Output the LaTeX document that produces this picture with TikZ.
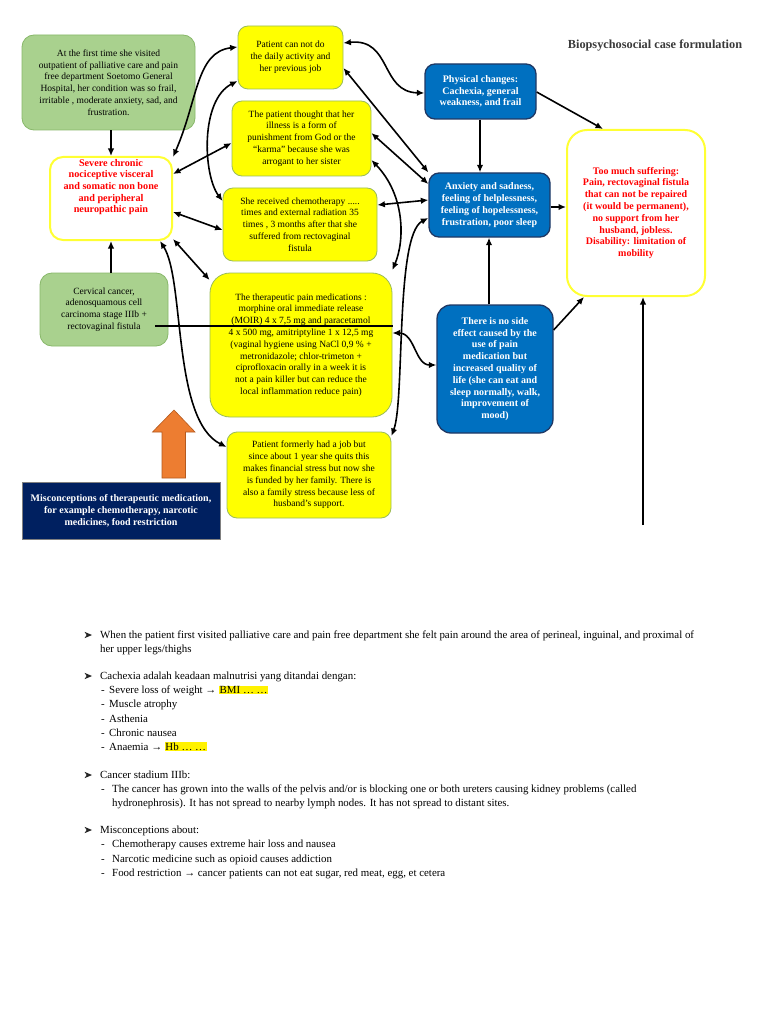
\documentclass[tikz,border=0pt]{standalone}
\usepackage{fontspec}
\setmainfont{Liberation Serif}
\usetikzlibrary{arrows.meta,calc}
\definecolor{gfill}{HTML}{A9D18E}
\definecolor{gdraw}{HTML}{88B86A}
\definecolor{yfill}{HTML}{FFFF00}
\definecolor{ydraw}{HTML}{9BBB59}
\definecolor{bfill}{HTML}{0070C0}
\definecolor{bdraw}{HTML}{1F3864}
\definecolor{nfill}{HTML}{002060}
\definecolor{ofill}{HTML}{ED7D31}
\definecolor{odraw}{HTML}{B55A1E}
\definecolor{redtxt}{HTML}{FF0000}
\definecolor{ybord}{HTML}{FFFF33}
\definecolor{titlec}{HTML}{3A3A3A}
\newcommand\bulletmark[1]{\fill[black!85] (84.5,#1-3.2) -- (92,#1) -- (84.5,#1+3.2) -- (86.6,#1) -- cycle;}
\begin{document}
\begin{tikzpicture}[x=1pt,y=-1pt,
  boxfont/.style={font=\fontsize{9.5}{11.8}\selectfont},
  boldfont/.style={font=\bfseries\fontsize{10}{11.8}\selectfont},
  gbox/.style={boxfont, align=center, inner sep=2pt, rounded corners=12pt, fill=gfill, draw=gdraw, line width=0.8pt},
  ybox/.style={boxfont, align=center, inner sep=2pt, rounded corners=10pt, fill=yfill, draw=ydraw, line width=0.8pt},
  rbox/.style={align=center, inner sep=2pt, fill=white, draw=ybord, line width=2pt},
  rtext/.style={boldfont, align=center, text=redtxt, inner sep=0pt},
  bbox/.style={boldfont, align=center, inner sep=2pt, rounded corners=10pt, fill=bfill, draw=bdraw, line width=1.3pt, text=white},
  nbox/.style={boldfont, align=center, inner sep=2pt, fill=nfill, draw=gray, line width=0.6pt, text=white},
  conn/.style={line width=1.6pt, {Latex[length=7.5pt,width=6.5pt]}-{Latex[length=7.5pt,width=6.5pt]}},
  conn1/.style={line width=1.6pt, -{Latex[length=7.5pt,width=6.5pt]}},
  btxt/.style={anchor=base west, inner sep=0pt, font=\fontsize{10.9}{12}\selectfont}]
\useasboundingbox (0,0) rectangle (768,1024);
\fill[white] (0,0) rectangle (768,1024);

% title
\node[font=\bfseries\fontsize{12.3}{14}\selectfont, text=titlec] (title) at (655,46) {Biopsychosocial case formulation};

% left column
\node[gbox, minimum width=173pt, minimum height=95pt] (init) at (108.5,82.5)
 {At the first time she visited\\outpatient of palliative care and pain\\free department Soetomo General\\Hospital, her condition was so frail,\\irritable , moderate anxiety, sad, and\\frustration.};
\node[rbox, rounded corners=13pt, minimum width=122pt, minimum height=83pt] (sev) at (111,198.5) {};
\node[rtext, font=\bfseries\fontsize{10.2}{11.7}\selectfont] (sevt) at (111,187) {Severe chronic\\nociceptive visceral\\and somatic non bone\\and peripheral\\neuropathic pain};
\node[gbox, minimum width=128pt, minimum height=73pt] (cerv) at (104,309.5)
 {Cervical cancer,\\adenosquamous cell\\carcinoma stage IIIb +\\rectovaginal fistula};

% middle column
\node[ybox, minimum width=105pt, minimum height=63pt] (cannot) at (290.5,57.5)
 {Patient can not do\\the daily activity and\\her previous job};
\node[ybox, minimum width=139pt, minimum height=75pt] (thought) at (301.5,138.5)
 {The patient thought that her\\illness is a form of\\punishment from God or the\\“karma” because she was\\arrogant to her sister};
\node[ybox, minimum width=154pt, minimum height=73pt] (chemo) at (300,224.5)
 {She received chemotherapy .....\\times and external radiation 35\\times , 3 months after that she\\suffered from rectovaginal\\fistula};
\node[ybox, rounded corners=20pt, minimum width=182pt, minimum height=144pt] (therap) at (301,345)
 {The therapeutic pain medications :\\morphine oral immediate release\\(MOIR) 4 x 7,5 mg and paracetamol\\4 x 500 mg, amitriptyline 1 x 12,5 mg\\(vaginal hygiene using NaCl 0,9 \% +\\metronidazole; chlor-trimeton +\\ciprofloxacin orally in a week it is\\not a pain killer but can reduce the\\local inflammation reduce pain)};
\node[ybox, minimum width=164pt, minimum height=86pt] (former) at (309,475)
 {Patient formerly had a job but\\since about 1 year she quits this\\makes financial stress but now she\\is funded by her family. There is\\also a family stress because less of\\husband's support.};

% right column
\node[bbox, minimum width=111pt, minimum height=55pt] (phys) at (480.5,91.5)
 {Physical changes:\\Cachexia, general\\weakness, and frail};
\node[bbox, minimum width=121pt, minimum height=64pt] (anx) at (489.5,205)
 {Anxiety and sadness,\\feeling of helplessness,\\feeling of hopelessness,\\frustration, poor sleep};
\node[bbox, rounded corners=14pt, minimum width=116pt, minimum height=128pt] (noside) at (495,369)
 {There is no side\\effect caused by the\\use of pain\\medication but\\increased quality of\\life (she can eat and\\sleep normally, walk,\\improvement of\\mood)};
\node[rbox, rtext, draw=ybord, fill=white, inner sep=2pt, line width=2pt, rounded corners=20pt, minimum width=138pt, minimum height=166pt] (suff) at (636,213)
 {Too much suffering:\\Pain, rectovaginal fistula\\that can not be repaired\\(it would be permanent),\\no support from her\\husband, jobless.\\Disability: limitation of\\mobility};

% misconceptions box and orange arrow
\node[nbox, minimum width=198pt, minimum height=57pt] (misc) at (121,510.5)
 {Misconceptions of therapeutic medication,\\for example chemotherapy, narcotic\\medicines, food restriction};
\filldraw[fill=ofill, draw=odraw, line width=0.6pt] (162,478) -- (162,432) -- (152.5,432) -- (174,410) -- (195,432) -- (185.5,432) -- (185.5,478) -- cycle;

% connectors left
\draw[conn1] (init.south -| 111,0) -- (sev.north -| 111,0);
\draw[conn1] (cerv.north -| 111,0) -- (sev.south -| 111,0);
\draw[conn] (sev.east |- 0,157) .. controls (198,100) and (196,52) .. (cannot.west |- 0,47);
\draw[conn] (chemo.west |- 0,201) .. controls (203,175) and (200,100) .. (cannot.west |- 0,81);
\draw[conn] (sev.east |- 0,174) -- (thought.west |- 0,143);
\draw[conn] (sev.east |- 0,212) -- (chemo.west |- 0,230);
\draw[conn] (sev.east |- 0,239) -- (therap.west |- 0,280);
\draw[conn] (sev.south -| 160,0) .. controls (185,280) and (172,420) .. (former.west |- 0,447);

% connectors right
\draw[conn] (cannot.east |- 0,43) .. controls (392,38) and (380,92) .. (phys.west |- 0,93);
\draw[conn] (cannot.east |- 0,68) -- (anx.north west);
\draw[conn] (thought.east |- 0,133) -- (anx.west |- 0,184);
\draw[conn] (thought.east |- 0,160) .. controls (405,195) and (405,240) .. (therap.east |- 0,270);
\draw[conn] (chemo.east |- 0,205) -- (anx.west |- 0,200);
\draw[conn] (anx.west |- 0,218) .. controls (395,235) and (405,400) .. (former.east |- 0,436);
\draw[conn] (therap.east |- 0,333) .. controls (415,333) and (415,365) .. (noside.west |- 0,365);
\draw[conn1] (phys.south -| 480,0) -- (anx.north -| 480,0);
\draw[conn1] (phys.east |- 0,92) -- (suff.north -| 603,0);
\draw[conn1] (anx.east |- 0,207) -- (suff.west |- 0,207);
\draw[conn1] (noside.north -| 489,0) -- (anx.south -| 489,0);
\draw[conn1] (noside.east |- 0,330) -- (suff.south -| 584,0);
\coordinate (bot) at (643,525);
\draw[conn1] (bot) -- (suff.south -| 643,0);

% cervical line across medication box
\coordinate (cl1) at (155,326);
\coordinate (cl2) at (393,326);
\draw[line width=2.3pt] (cl1) -- (cl2);

% bottom notes
\bulletmark{635}
\node[btxt] (t1) at (100,638.5) {When the patient first visited palliative care and pain free department she felt pain around the area of perineal, inguinal, and proximal of};
\node[btxt] (t1b) at (100,652.5) {her upper legs/thighs};
\bulletmark{676}
\node[btxt] (t2) at (100,679.5) {Cachexia adalah keadaan malnutrisi yang ditandai dengan:};
\node[btxt] (d1) at (101,693.5) {-};
\node[btxt] (t2a) at (109,693.5) {Severe loss of weight → {\fboxsep=0.6pt\colorbox{yellow}{BMI … …}}};
\node[btxt] (d2) at (101,707.5) {-};
\node[btxt] (t2b) at (109,707.5) {Muscle atrophy};
\node[btxt] (d3) at (101,722) {-};
\node[btxt] (t2c) at (109,722) {Asthenia};
\node[btxt] (d4) at (101,736) {-};
\node[btxt] (t2d) at (109,736) {Chronic nausea};
\node[btxt] (d5) at (101,750.5) {-};
\node[btxt] (t2e) at (109,750.5) {Anaemia → {\fboxsep=0.6pt\colorbox{yellow}{Hb … …}}};
\bulletmark{775}
\node[btxt] (t3) at (100,778.5) {Cancer stadium IIIb:};
\node[btxt] (d6) at (101,792.5) {-};
\node[btxt] (t3a) at (112,792.5) {The cancer has grown into the walls of the pelvis and/or is blocking one or both ureters causing kidney problems (called};
\node[btxt] (t3b) at (112,806.5) {hydronephrosis). It has not spread to nearby lymph nodes. It has not spread to distant sites.};
\bulletmark{830}
\node[btxt] (t4) at (100,833.5) {Misconceptions about:};
\node[btxt] (d7) at (101,847.5) {-};
\node[btxt] (t4a) at (112,847.5) {Chemotherapy causes extreme hair loss and nausea};
\node[btxt] (d8) at (101,862) {-};
\node[btxt] (t4b) at (112,862) {Narcotic medicine such as opioid causes addiction};
\node[btxt] (d9) at (101,876.5) {-};
\node[btxt] (t4c) at (112,876.5) {Food restriction → cancer patients can not eat sugar, red meat, egg, et cetera};
\end{tikzpicture}
\end{document}
